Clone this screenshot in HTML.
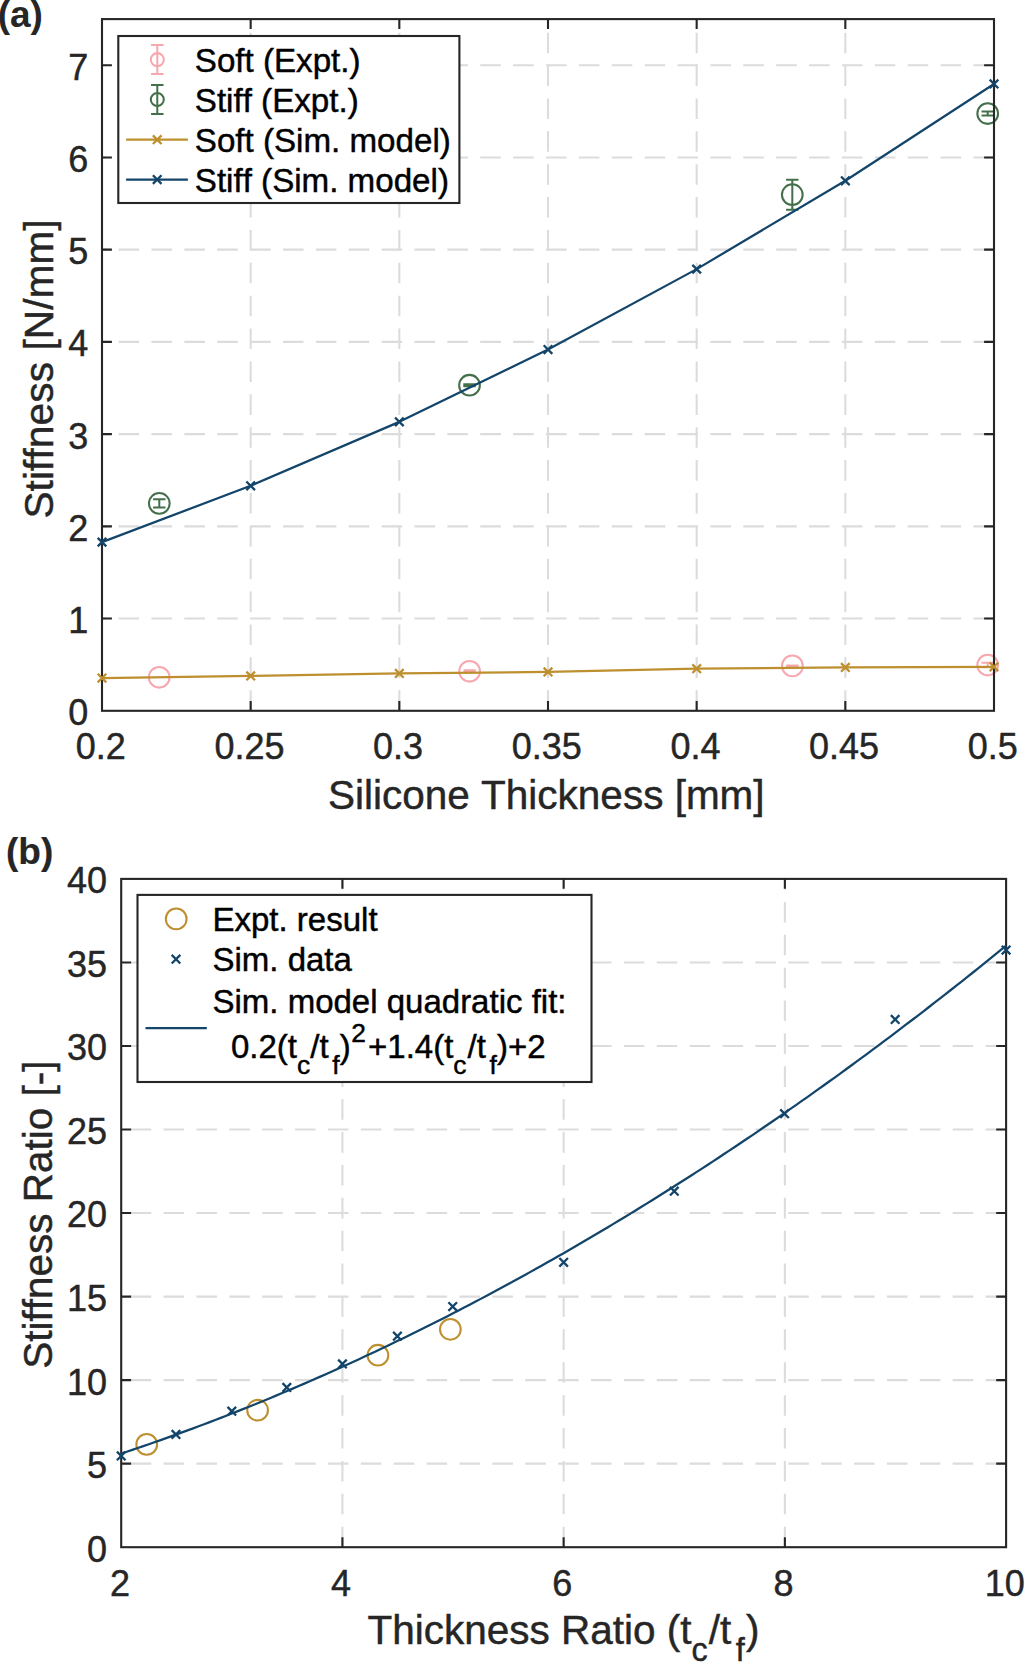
<!DOCTYPE html>
<html lang="en"><head><meta charset="utf-8"><title>Stiffness figure</title>
<style>html,body{margin:0;padding:0;background:#fff}svg{display:block}text{font-kerning:none}</style>
</head><body>
<svg width="1025" height="1678" viewBox="0 0 1025 1678" font-family='"Liberation Sans", sans-serif'>
<rect width="1025" height="1678" fill="#fff"/>
<g stroke="#dcdcdc" stroke-width="2.1" stroke-dasharray="20.55 12.33" fill="none">
<path d="M250.67 710.80L250.67 19.10"/>
<path d="M399.33 710.80L399.33 19.10"/>
<path d="M548.00 710.80L548.00 19.10"/>
<path d="M696.67 710.80L696.67 19.10"/>
<path d="M845.33 710.80L845.33 19.10"/>
<path d="M994.00 618.57L102.00 618.57"/>
<path d="M994.00 526.35L102.00 526.35"/>
<path d="M994.00 434.12L102.00 434.12"/>
<path d="M994.00 341.89L102.00 341.89"/>
<path d="M994.00 249.67L102.00 249.67"/>
<path d="M994.00 157.44L102.00 157.44"/>
<path d="M994.00 65.21L102.00 65.21"/>
</g>
<circle cx="159.20" cy="677.25" r="10.35" stroke="#f7a8af" stroke-width="2.05" fill="none"/>
<path d="M469.60 670.20L469.60 672.30M463.40 670.20L475.80 670.20M463.40 672.30L475.80 672.30" stroke="#f7a8af" stroke-width="2" fill="none"/>
<circle cx="469.60" cy="671.25" r="10.35" stroke="#f7a8af" stroke-width="2.05" fill="none"/>
<path d="M792.40 665.54L792.40 666.27M786.20 665.54L798.60 665.54M786.20 666.27L798.60 666.27" stroke="#f7a8af" stroke-width="2" fill="none"/>
<circle cx="792.40" cy="665.90" r="10.35" stroke="#f7a8af" stroke-width="2.05" fill="none"/>
<path d="M987.70 662.79L987.70 667.21M981.50 662.79L993.90 662.79M981.50 667.21L993.90 667.21" stroke="#f7a8af" stroke-width="2" fill="none"/>
<circle cx="987.70" cy="665.00" r="10.35" stroke="#f7a8af" stroke-width="2.05" fill="none"/>
<path d="M159.30 499.32L159.30 507.53M153.10 499.32L165.50 499.32M153.10 507.53L165.50 507.53" stroke="#43704a" stroke-width="2" fill="none"/>
<circle cx="159.30" cy="503.43" r="10.35" stroke="#43704a" stroke-width="2.05" fill="none"/>
<path d="M469.50 384.23L469.50 386.25M463.30 384.23L475.70 384.23M463.30 386.25L475.70 386.25" stroke="#43704a" stroke-width="2" fill="none"/>
<circle cx="469.50" cy="385.24" r="10.35" stroke="#43704a" stroke-width="2.05" fill="none"/>
<path d="M792.30 179.67L792.30 209.73M786.10 179.67L798.50 179.67M786.10 209.73L798.50 209.73" stroke="#43704a" stroke-width="2" fill="none"/>
<circle cx="792.30" cy="194.70" r="10.35" stroke="#43704a" stroke-width="2.05" fill="none"/>
<path d="M987.70 111.51L987.70 115.57M981.50 111.51L993.90 111.51M981.50 115.57L993.90 115.57" stroke="#43704a" stroke-width="2" fill="none"/>
<circle cx="987.70" cy="113.54" r="10.35" stroke="#43704a" stroke-width="2.05" fill="none"/>
<g stroke="#262626" stroke-width="2.1" fill="none">
<rect x="102.00" y="19.10" width="892.00" height="691.70"/>
<path d="M250.67 710.80L250.67 700.90M250.67 19.10L250.67 29.00M399.33 710.80L399.33 700.90M399.33 19.10L399.33 29.00M548.00 710.80L548.00 700.90M548.00 19.10L548.00 29.00M696.67 710.80L696.67 700.90M696.67 19.10L696.67 29.00M845.33 710.80L845.33 700.90M845.33 19.10L845.33 29.00M102.00 618.57L111.90 618.57M994.00 618.57L984.10 618.57M102.00 526.35L111.90 526.35M994.00 526.35L984.10 526.35M102.00 434.12L111.90 434.12M994.00 434.12L984.10 434.12M102.00 341.89L111.90 341.89M994.00 341.89L984.10 341.89M102.00 249.67L111.90 249.67M994.00 249.67L984.10 249.67M102.00 157.44L111.90 157.44M994.00 157.44L984.10 157.44M102.00 65.21L111.90 65.21M994.00 65.21L984.10 65.21"/>
</g>
<path d="M102.00 678.11L250.67 675.94L399.33 673.39L548.00 671.97L696.67 668.69L845.33 667.45L994.00 666.81" stroke="#bd8f2f" stroke-width="2.25" fill="none" stroke-linejoin="round"/>
<path d="M97.70 673.81L106.30 682.41M97.70 682.41L106.30 673.81" stroke="#bd8f2f" stroke-width="2.3" fill="none"/>
<path d="M246.37 671.64L254.97 680.24M246.37 680.24L254.97 671.64" stroke="#bd8f2f" stroke-width="2.3" fill="none"/>
<path d="M395.03 669.09L403.63 677.69M395.03 677.69L403.63 669.09" stroke="#bd8f2f" stroke-width="2.3" fill="none"/>
<path d="M543.70 667.67L552.30 676.27M543.70 676.27L552.30 667.67" stroke="#bd8f2f" stroke-width="2.3" fill="none"/>
<path d="M692.37 664.39L700.97 672.99M692.37 672.99L700.97 664.39" stroke="#bd8f2f" stroke-width="2.3" fill="none"/>
<path d="M841.03 663.15L849.63 671.75M841.03 671.75L849.63 663.15" stroke="#bd8f2f" stroke-width="2.3" fill="none"/>
<path d="M989.70 662.51L998.30 671.11M989.70 671.11L998.30 662.51" stroke="#bd8f2f" stroke-width="2.3" fill="none"/>
<path d="M102.00 542.12L250.67 485.77L399.33 421.85L548.00 349.55L696.67 269.13L845.33 180.77L994.00 83.94" stroke="#13456a" stroke-width="2.25" fill="none" stroke-linejoin="round"/>
<path d="M97.70 537.82L106.30 546.42M97.70 546.42L106.30 537.82" stroke="#13456a" stroke-width="2.3" fill="none"/>
<path d="M246.37 481.47L254.97 490.07M246.37 490.07L254.97 481.47" stroke="#13456a" stroke-width="2.3" fill="none"/>
<path d="M395.03 417.55L403.63 426.15M395.03 426.15L403.63 417.55" stroke="#13456a" stroke-width="2.3" fill="none"/>
<path d="M543.70 345.25L552.30 353.85M543.70 353.85L552.30 345.25" stroke="#13456a" stroke-width="2.3" fill="none"/>
<path d="M692.37 264.83L700.97 273.43M692.37 273.43L700.97 264.83" stroke="#13456a" stroke-width="2.3" fill="none"/>
<path d="M841.03 176.47L849.63 185.07M841.03 185.07L849.63 176.47" stroke="#13456a" stroke-width="2.3" fill="none"/>
<path d="M989.70 79.64L998.30 88.24M989.70 88.24L998.30 79.64" stroke="#13456a" stroke-width="2.3" fill="none"/>
<text x="100.80" y="759.4" font-size="36" fill="#262626" stroke="#262626" stroke-width="0.45" text-anchor="middle">0.2</text>
<text x="249.47" y="759.4" font-size="36" fill="#262626" stroke="#262626" stroke-width="0.45" text-anchor="middle">0.25</text>
<text x="398.13" y="759.4" font-size="36" fill="#262626" stroke="#262626" stroke-width="0.45" text-anchor="middle">0.3</text>
<text x="546.80" y="759.4" font-size="36" fill="#262626" stroke="#262626" stroke-width="0.45" text-anchor="middle">0.35</text>
<text x="695.47" y="759.4" font-size="36" fill="#262626" stroke="#262626" stroke-width="0.45" text-anchor="middle">0.4</text>
<text x="844.13" y="759.4" font-size="36" fill="#262626" stroke="#262626" stroke-width="0.45" text-anchor="middle">0.45</text>
<text x="992.80" y="759.4" font-size="36" fill="#262626" stroke="#262626" stroke-width="0.45" text-anchor="middle">0.5</text>
<text x="88.3" y="725.20" font-size="36" fill="#262626" stroke="#262626" stroke-width="0.45" text-anchor="end">0</text>
<text x="88.3" y="632.97" font-size="36" fill="#262626" stroke="#262626" stroke-width="0.45" text-anchor="end">1</text>
<text x="88.3" y="540.75" font-size="36" fill="#262626" stroke="#262626" stroke-width="0.45" text-anchor="end">2</text>
<text x="88.3" y="448.52" font-size="36" fill="#262626" stroke="#262626" stroke-width="0.45" text-anchor="end">3</text>
<text x="88.3" y="356.29" font-size="36" fill="#262626" stroke="#262626" stroke-width="0.45" text-anchor="end">4</text>
<text x="88.3" y="264.07" font-size="36" fill="#262626" stroke="#262626" stroke-width="0.45" text-anchor="end">5</text>
<text x="88.3" y="171.84" font-size="36" fill="#262626" stroke="#262626" stroke-width="0.45" text-anchor="end">6</text>
<text x="88.3" y="79.61" font-size="36" fill="#262626" stroke="#262626" stroke-width="0.45" text-anchor="end">7</text>
<text x="546.3" y="808.6" font-size="40.5" fill="#262626" stroke="#262626" stroke-width="0.45" text-anchor="middle">Silicone Thickness [mm]</text>
<text transform="translate(53,368.9) rotate(-90)" letter-spacing="0.15" font-size="40.5" fill="#262626" stroke="#262626" stroke-width="0.45" text-anchor="middle">Stiffness [N/mm]</text>
<text x="-2.3" y="27" font-size="37" font-weight="bold" fill="#262626">(a)</text>
<rect x="118.3" y="36" width="341.1" height="167" fill="#fff" stroke="#262626" stroke-width="2.1"/>
<g font-size="33.15" fill="#000" stroke="#000" stroke-width="0.45">
<text x="194.8" y="72.00">Soft (Expt.)</text>
<text x="194.8" y="111.90">Stiff (Expt.)</text>
<text x="194.8" y="152.10">Soft (Sim. model)</text>
<text x="194.8" y="192.00">Stiff (Sim. model)</text>
</g>
<path d="M157.3 45.1L157.3 74.1M151.05 45.1L163.55 45.1M151.05 74.1L163.55 74.1" stroke="#f7a8af" stroke-width="2" fill="none"/>
<circle cx="157.3" cy="59.6" r="6.5" stroke="#f7a8af" stroke-width="2.05" fill="none"/>
<path d="M157.3 85.0L157.3 114.0M151.05 85.0L163.55 85.0M151.05 114.0L163.55 114.0" stroke="#43704a" stroke-width="2" fill="none"/>
<circle cx="157.3" cy="99.5" r="6.5" stroke="#43704a" stroke-width="2.05" fill="none"/>
<line x1="126.1" y1="139.7" x2="187.9" y2="139.7" stroke="#bd8f2f" stroke-width="2.25"/>
<path d="M152.90 135.40L161.50 144.00M152.90 144.00L161.50 135.40" stroke="#bd8f2f" stroke-width="2.3" fill="none"/>
<line x1="126.1" y1="179.6" x2="187.9" y2="179.6" stroke="#13456a" stroke-width="2.25"/>
<path d="M152.90 175.30L161.50 183.90M152.90 183.90L161.50 175.30" stroke="#13456a" stroke-width="2.3" fill="none"/>
<g stroke="#dcdcdc" stroke-width="2.1" stroke-dasharray="20.55 12.33" fill="none">
<path d="M342.43 1547.20L342.43 878.90"/>
<path d="M563.65 1547.20L563.65 878.90"/>
<path d="M784.88 1547.20L784.88 878.90"/>
<path d="M1006.10 1463.66L121.20 1463.66"/>
<path d="M1006.10 1380.12L121.20 1380.12"/>
<path d="M1006.10 1296.59L121.20 1296.59"/>
<path d="M1006.10 1213.05L121.20 1213.05"/>
<path d="M1006.10 1129.51L121.20 1129.51"/>
<path d="M1006.10 1045.97L121.20 1045.97"/>
<path d="M1006.10 962.44L121.20 962.44"/>
</g>
<circle cx="146.71" cy="1444.40" r="10.35" stroke="#bd8f2f" stroke-width="2.05" fill="none"/>
<circle cx="257.59" cy="1410.20" r="10.35" stroke="#bd8f2f" stroke-width="2.05" fill="none"/>
<circle cx="377.93" cy="1355.23" r="10.35" stroke="#bd8f2f" stroke-width="2.05" fill="none"/>
<circle cx="450.38" cy="1329.33" r="10.35" stroke="#bd8f2f" stroke-width="2.05" fill="none"/>
<g stroke="#262626" stroke-width="2.1" fill="none">
<rect x="121.20" y="878.90" width="884.90" height="668.30"/>
<path d="M342.43 1547.20L342.43 1537.30M342.43 878.90L342.43 888.80M563.65 1547.20L563.65 1537.30M563.65 878.90L563.65 888.80M784.88 1547.20L784.88 1537.30M784.88 878.90L784.88 888.80M121.20 1463.66L131.10 1463.66M1006.10 1463.66L996.20 1463.66M121.20 1380.12L131.10 1380.12M1006.10 1380.12L996.20 1380.12M121.20 1296.59L131.10 1296.59M1006.10 1296.59L996.20 1296.59M121.20 1213.05L131.10 1213.05M1006.10 1213.05L996.20 1213.05M121.20 1129.51L131.10 1129.51M1006.10 1129.51L996.20 1129.51M121.20 1045.97L131.10 1045.97M1006.10 1045.97L996.20 1045.97M121.20 962.44L131.10 962.44M1006.10 962.44L996.20 962.44"/>
</g>
<path d="M116.90 1451.68L125.50 1460.28M116.90 1460.28L125.50 1451.68" stroke="#13456a" stroke-width="2.3" fill="none"/>
<path d="M171.65 1430.12L180.25 1438.72M171.65 1438.72L180.25 1430.12" stroke="#13456a" stroke-width="2.3" fill="none"/>
<path d="M227.51 1406.90L236.11 1415.50M227.51 1415.50L236.11 1406.90" stroke="#13456a" stroke-width="2.3" fill="none"/>
<path d="M282.49 1383.18L291.09 1391.78M282.49 1391.78L291.09 1383.18" stroke="#13456a" stroke-width="2.3" fill="none"/>
<path d="M338.12 1359.62L346.73 1368.22M338.12 1368.22L346.73 1359.62" stroke="#13456a" stroke-width="2.3" fill="none"/>
<path d="M393.10 1331.88L401.70 1340.48M393.10 1340.48L401.70 1331.88" stroke="#13456a" stroke-width="2.3" fill="none"/>
<path d="M448.41 1302.31L457.01 1310.91M448.41 1310.91L457.01 1302.31" stroke="#13456a" stroke-width="2.3" fill="none"/>
<path d="M559.35 1258.04L567.95 1266.64M559.35 1266.64L567.95 1258.04" stroke="#13456a" stroke-width="2.3" fill="none"/>
<path d="M669.96 1186.86L678.56 1195.46M669.96 1195.46L678.56 1186.86" stroke="#13456a" stroke-width="2.3" fill="none"/>
<path d="M780.24 1109.34L788.84 1117.94M780.24 1117.94L788.84 1109.34" stroke="#13456a" stroke-width="2.3" fill="none"/>
<path d="M890.86 1015.11L899.46 1023.71M890.86 1023.71L899.46 1015.11" stroke="#13456a" stroke-width="2.3" fill="none"/>
<path d="M1001.80 945.77L1010.40 954.37M1001.80 954.37L1010.40 945.77" stroke="#13456a" stroke-width="2.3" fill="none"/>
<path d="M121.20 1453.64L126.73 1451.79L132.26 1449.93L137.79 1448.05L143.32 1446.15L148.85 1444.24L154.38 1442.31L159.91 1440.36L165.44 1438.40L170.98 1436.42L176.51 1434.42L182.04 1432.41L187.57 1430.38L193.10 1428.33L198.63 1426.27L204.16 1424.19L209.69 1422.09L215.22 1419.98L220.75 1417.85L226.28 1415.70L231.81 1413.54L237.34 1411.36L242.87 1409.16L248.40 1406.95L253.94 1404.72L259.47 1402.47L265.00 1400.21L270.53 1397.93L276.06 1395.63L281.59 1393.32L287.12 1390.98L292.65 1388.64L298.18 1386.27L303.71 1383.89L309.24 1381.50L314.77 1379.08L320.30 1376.65L325.83 1374.20L331.36 1371.74L336.89 1369.26L342.43 1366.76L347.96 1364.24L353.49 1361.71L359.02 1359.17L364.55 1356.60L370.08 1354.02L375.61 1351.42L381.14 1348.81L386.67 1346.18L392.20 1343.53L397.73 1340.86L403.26 1338.18L408.79 1335.48L414.32 1332.77L419.85 1330.04L425.38 1327.29L430.91 1324.52L436.45 1321.74L441.98 1318.94L447.51 1316.13L453.04 1313.30L458.57 1310.45L464.10 1307.58L469.63 1304.70L475.16 1301.80L480.69 1298.88L486.22 1295.95L491.75 1293.00L497.28 1290.04L502.81 1287.06L508.34 1284.06L513.87 1281.04L519.40 1278.01L524.94 1274.96L530.47 1271.89L536.00 1268.81L541.53 1265.71L547.06 1262.60L552.59 1259.46L558.12 1256.31L563.65 1253.15L569.18 1249.97L574.71 1246.77L580.24 1243.55L585.77 1240.32L591.30 1237.07L596.83 1233.80L602.36 1230.52L607.90 1227.22L613.43 1223.90L618.96 1220.57L624.49 1217.22L630.02 1213.85L635.55 1210.47L641.08 1207.07L646.61 1203.65L652.14 1200.22L657.67 1196.77L663.20 1193.30L668.73 1189.82L674.26 1186.32L679.79 1182.80L685.32 1179.27L690.85 1175.72L696.39 1172.15L701.92 1168.57L707.45 1164.97L712.98 1161.35L718.51 1157.71L724.04 1154.06L729.57 1150.40L735.10 1146.71L740.63 1143.01L746.16 1139.29L751.69 1135.56L757.22 1131.81L762.75 1128.04L768.28 1124.26L773.81 1120.46L779.34 1116.64L784.88 1112.81L790.41 1108.95L795.94 1105.09L801.47 1101.20L807.00 1097.30L812.53 1093.38L818.06 1089.45L823.59 1085.50L829.12 1081.53L834.65 1077.54L840.18 1073.54L845.71 1069.52L851.24 1065.49L856.77 1061.44L862.30 1057.37L867.83 1053.28L873.37 1049.18L878.90 1045.06L884.43 1040.93L889.96 1036.78L895.49 1032.61L901.02 1028.42L906.55 1024.22L912.08 1020.00L917.61 1015.77L923.14 1011.52L928.67 1007.25L934.20 1002.96L939.73 998.66L945.26 994.34L950.79 990.00L956.32 985.65L961.86 981.28L967.39 976.90L972.92 972.50L978.45 968.08L983.98 963.64L989.51 959.19L995.04 954.72L1000.57 950.23L1006.10 945.73" stroke="#13456a" stroke-width="2.25" fill="none" stroke-linejoin="round"/>
<text x="119.90" y="1595.5" font-size="36" fill="#262626" stroke="#262626" stroke-width="0.45" text-anchor="middle">2</text>
<text x="341.12" y="1595.5" font-size="36" fill="#262626" stroke="#262626" stroke-width="0.45" text-anchor="middle">4</text>
<text x="562.35" y="1595.5" font-size="36" fill="#262626" stroke="#262626" stroke-width="0.45" text-anchor="middle">6</text>
<text x="783.58" y="1595.5" font-size="36" fill="#262626" stroke="#262626" stroke-width="0.45" text-anchor="middle">8</text>
<text x="1004.80" y="1595.5" font-size="36" fill="#262626" stroke="#262626" stroke-width="0.45" text-anchor="middle">10</text>
<text x="107" y="1561.60" font-size="36" fill="#262626" stroke="#262626" stroke-width="0.45" text-anchor="end">0</text>
<text x="107" y="1478.06" font-size="36" fill="#262626" stroke="#262626" stroke-width="0.45" text-anchor="end">5</text>
<text x="107" y="1394.53" font-size="36" fill="#262626" stroke="#262626" stroke-width="0.45" text-anchor="end">10</text>
<text x="107" y="1310.99" font-size="36" fill="#262626" stroke="#262626" stroke-width="0.45" text-anchor="end">15</text>
<text x="107" y="1227.45" font-size="36" fill="#262626" stroke="#262626" stroke-width="0.45" text-anchor="end">20</text>
<text x="107" y="1143.91" font-size="36" fill="#262626" stroke="#262626" stroke-width="0.45" text-anchor="end">25</text>
<text x="107" y="1060.38" font-size="36" fill="#262626" stroke="#262626" stroke-width="0.45" text-anchor="end">30</text>
<text x="107" y="976.84" font-size="36" fill="#262626" stroke="#262626" stroke-width="0.45" text-anchor="end">35</text>
<text x="107" y="893.30" font-size="36" fill="#262626" stroke="#262626" stroke-width="0.45" text-anchor="end">40</text>
<text x="367.5" y="1644" font-size="40.5" fill="#262626" stroke="#262626" stroke-width="0.45">Thickness Ratio (t<tspan dy="17.4" font-size="32.4">c</tspan><tspan dy="-17.4" dx="1">/t</tspan><tspan dy="17.4" dx="4.5" font-size="32.4">f</tspan><tspan dy="-17.4" dx="1.2">)</tspan></text>
<text transform="translate(52.2,1214.7) rotate(-90)" font-size="40.5" fill="#262626" stroke="#262626" stroke-width="0.45" text-anchor="middle">Stiffness Ratio [-]</text>
<text x="6" y="864" font-size="37" font-weight="bold" fill="#262626" stroke="#262626" stroke-width="0.15">(b)</text>
<rect x="137.5" y="894.9" width="454" height="187.1" fill="#fff" stroke="#262626" stroke-width="2.1"/>
<g font-size="33" fill="#000" stroke="#000" stroke-width="0.45">
<text x="212.5" y="930.7">Expt. result</text>
<text x="212.5" y="971">Sim. data</text>
<text x="212.5" y="1012.5">Sim. model quadratic fit:</text>
<text x="231" y="1058">0.2(t<tspan dy="15.5" font-size="26.4">c</tspan><tspan dy="-15.5">/t</tspan><tspan dy="15.5" dx="3.7" font-size="26.4">f</tspan><tspan dy="-15.5">)</tspan><tspan dy="-16.3" dx="0.7" font-size="26.4">2</tspan><tspan dy="16.3" dx="2">+1.4(t</tspan><tspan dy="15.5" font-size="26.4">c</tspan><tspan dy="-15.5" dx="1">/t</tspan><tspan dy="15.5" dx="3.7" font-size="26.4">f</tspan><tspan dy="-15.5">)+2</tspan></text>
</g>
<circle cx="176.2" cy="918.9" r="10.35" stroke="#bd8f2f" stroke-width="2.05" fill="none"/>
<path d="M171.70 954.90L180.30 963.50M171.70 963.50L180.30 954.90" stroke="#13456a" stroke-width="2.3" fill="none"/>
<line x1="145.5" y1="1028.2" x2="206.8" y2="1028.2" stroke="#13456a" stroke-width="2.25"/>
</svg>
</body></html>
